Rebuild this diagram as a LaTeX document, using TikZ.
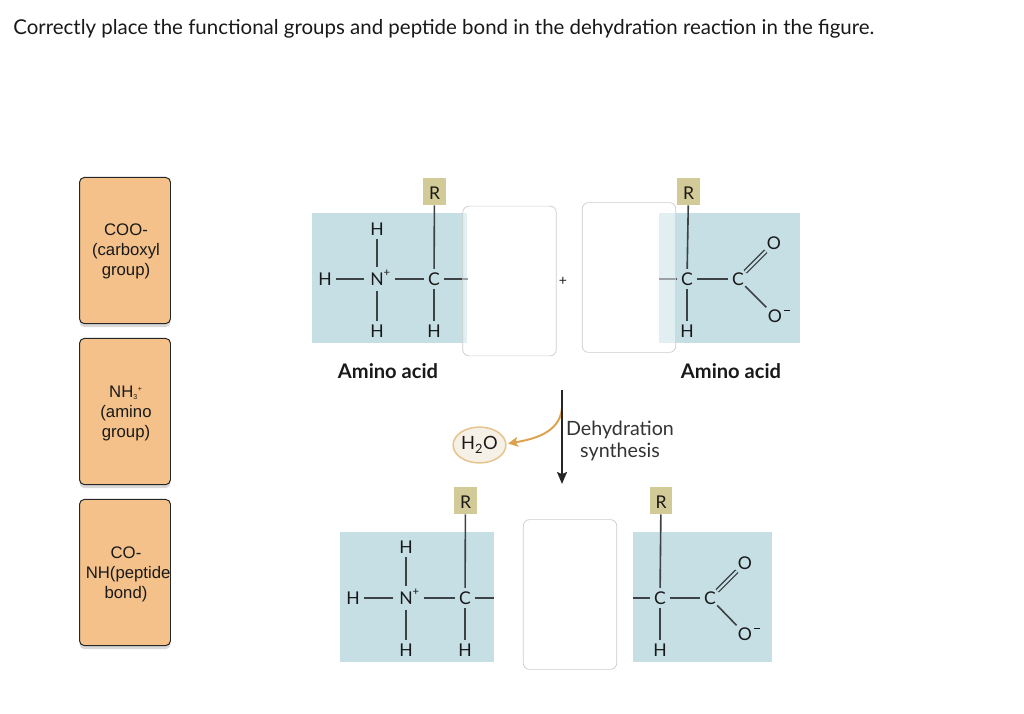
\documentclass[tikz,border=0pt]{standalone}
\usepackage{fontspec}
\setmainfont{Lato}
\newfontfamily\cardfont{Liberation Sans}
\usetikzlibrary{arrows.meta,shadows,shapes.geometric}
\definecolor{panelblue}{HTML}{C5DFE5}
\definecolor{rtan}{HTML}{D3CB97}
\definecolor{cardfill}{HTML}{F3C189}
\definecolor{bondgrey}{HTML}{3C4245}
\definecolor{wateredge}{HTML}{E6C58F}
\definecolor{waterfill}{HTML}{F6F1E6}
\definecolor{arrowtan}{HTML}{DDA24F}
\tikzset{
  atom/.style={inner sep=2.5pt, text=black!90, font=\fontsize{12.5}{12.5}\selectfont},
  nitro/.style={atom, inner sep=4pt},
  charge/.style={inner sep=0pt, text=black!90, font=\fontsize{8}{8}\selectfont},
  rbox/.style={fill=rtan, minimum width=16.2pt, minimum height=19.2pt, inner sep=0pt, text height=11pt, text depth=0pt, text=black!90, font=\fontsize{12.5}{12.5}\selectfont},
  panel/.style={fill=panelblue},
  slot/.style={draw=black!20, line width=.5pt, rounded corners=4.5pt, fill=white, fill opacity=.5},
  bond/.style={draw=bondgrey, line width=1.15pt},
  ketone/.style={bond, double=panelblue, double distance=1.5pt, line width=.9pt, shorten <=-2.5pt, shorten >=-2pt},
  oxide/.style={bond, shorten <=-2.5pt, shorten >=-1.5pt},
  card/.style={draw=black!85, line width=.7pt, fill=cardfill, rounded corners=3.5pt, minimum width=64.7pt, minimum height=104pt, inner sep=0pt, drop shadow={shadow xshift=0pt, shadow yshift=-2.5pt, opacity=.3}},
  cardtext/.style={align=center, inner sep=0pt, text=black!90, font=\cardfont\fontsize{11.9}{14.4}\selectfont},
  caption/.style={inner sep=0pt, font=\bfseries\fontsize{14.3}{14.3}\selectfont, text=black!90},
}
\begin{document}
\begin{tikzpicture}[x=0.025cm, y=-0.025cm]
\useasboundingbox (0,0) rectangle (1024,713);
\node[inner sep=0pt, anchor=west, text=black!90, font=\fontsize{14.55}{16}\selectfont] (title) at (13,29) {Correctly place the functional groups and peptide bond in the dehydration reaction in the figure.};

% answer cards
\node[card] (card0) at (125,250.5){};
\node[cardtext] (text0) at (126,251.5) {COO-\\(carboxyl\\group)};
\node[card] (card1) at (125,411.5){};
\node[cardtext] (text1) at (126,413.5) {NH\textsubscript{\tiny 3}\textsuperscript{\tiny +}\\(amino\\group)};
\node[card] (card2) at (125,572.5){};
\node[cardtext] (text2) at (126,574.5) {CO-\\\hspace*{3pt}NH(peptide\\bond)};

% top left amino acid
\fill[panel] (312,213) rectangle (467,343);
\node[rbox] (rA) at (434.5,191.5) {R};
\node[atom] (hA0) at (377,229) {H};
\node[nitro] (nA) at (377,279) {N};
\node[charge] (pA) at (387,273.5) {+};
\node[atom] (hA1) at (325,279) {H};
\node[atom] (hA2) at (377,331) {H};
\node[atom] (cA) at (434,279) {C};
\node[atom] (hA3) at (434,331) {H};
\coordinate (endA) at (468,279);
\draw[bond] (nA) -- (hA0);
\draw[bond] (nA) -- (hA1);
\draw[bond] (nA) -- (hA2);
\draw[bond] ([xshift=3pt]pA.east |- nA) -- (cA);
\draw[bond] (cA) -- (hA3);
\draw[bond] (cA) -- (rA);
\draw[bond] (cA) -- (endA);
\node[caption] (capA) at (388,371) {Amino acid};

% top right amino acid
\fill[panel] (659,213) rectangle (800,343);
\node[rbox] (rB) at (688.5,191.5) {R};
\node[atom] (cB0) at (687,279) {C};
\node[atom] (cB1) at (738,279) {C};
\node[atom] (oB0) at (774,243) {O};
\node[atom] (oB1) at (775,316) {O};
\node[charge] (mB) at (787,310.5) {\rule{.55em}{.75pt}};
\node[atom] (hB) at (687,331) {H};
\coordinate (endB) at (659,279);
\draw[bond] (cB0) -- (rB);
\draw[bond] (cB0) -- (hB);
\draw[bond] (cB0) -- (endB);
\draw[bond] (cB0) -- (cB1);
\draw[ketone] (cB1) -- (oB0);
\draw[oxide] (cB1) -- (oB1);
\node[caption] (capB) at (731,371) {Amino acid};

% drop slots on the top row
\node[slot, minimum width=66.5pt, minimum height=106.5pt] (slot0) at (509.5,281){};
\node[slot, minimum width=66.5pt, minimum height=106.5pt] (slot1) at (629,277.5){};
\node[inner sep=0pt, text=black!90, font=\fontsize{10}{10}\selectfont] (plus) at (563,281) {+};

% reaction arrow
\coordinate (arrtop) at (562,390);
\coordinate (arrbot) at (562,484);
\coordinate (arrmid) at (562,408);
\node[draw=wateredge, line width=1.1pt, fill=waterfill, ellipse, inner sep=0pt, minimum width=37.5pt, minimum height=25.5pt, text=black!90, font=\fontsize{13}{13}\selectfont] (water) at (479.5,445) {H\textsubscript{2}O};
\draw[draw=arrowtan, line width=1.4pt, -{Stealth[length=7pt,width=7pt,inset=1.5pt]}] (arrmid) to[out=-95,in=10] ([xshift=1pt,yshift=1pt]water.east);
\draw[draw=black!85, line width=1.6pt, -{Stealth[length=8.5pt,width=7pt,inset=1.5pt]}] (arrtop) -- (arrbot);
\node[inner sep=0pt, align=center, text=black!80, font=\fontsize{14}{15.6}\selectfont] (dehyd) at (620,441) {Dehydration\\synthesis};

% bottom left residue
\fill[panel] (340,532) rectangle (494,662);
\node[rbox] (rC) at (465.5,500.5) {R};
\node[atom] (hC0) at (406,547) {H};
\node[nitro] (nC) at (406,598) {N};
\node[charge] (pC) at (416,592.5) {+};
\node[atom] (hC1) at (353,598) {H};
\node[atom] (hC2) at (406,650) {H};
\node[atom] (cC) at (465,598) {C};
\node[atom] (hC3) at (465,650) {H};
\coordinate (endC) at (494,598);
\draw[bond] (nC) -- (hC0);
\draw[bond] (nC) -- (hC1);
\draw[bond] (nC) -- (hC2);
\draw[bond] ([xshift=3pt]pC.east |- nC) -- (cC);
\draw[bond] (cC) -- (hC3);
\draw[bond] (cC) -- (rC);
\draw[bond] (cC) -- (endC);

% bottom right residue
\fill[panel] (633,532) rectangle (772,662);
\node[rbox] (rD) at (661,500.5) {R};
\node[atom] (cD0) at (660,598) {C};
\node[atom] (cD1) at (710,598) {C};
\node[atom] (oD0) at (745,563) {O};
\node[atom] (oD1) at (745,634) {O};
\node[charge] (mD) at (757,628.5) {\rule{.55em}{.75pt}};
\node[atom] (hD) at (660,650) {H};
\coordinate (endD) at (633,598);
\draw[bond] (cD0) -- (rD);
\draw[bond] (cD0) -- (hD);
\draw[bond] (cD0) -- (endD);
\draw[bond] (cD0) -- (cD1);
\draw[ketone] (cD1) -- (oD0);
\draw[oxide] (cD1) -- (oD1);

\node[slot, fill opacity=1, minimum width=66.5pt, minimum height=106.5pt] (slot2) at (570,594.5){};
\end{tikzpicture}
\end{document}
